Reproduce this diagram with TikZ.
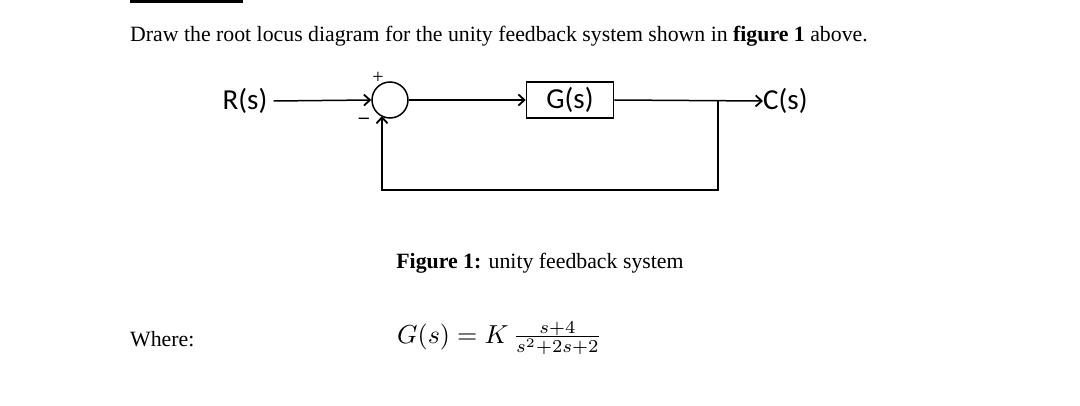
\documentclass[tikz,border=0pt]{standalone}
\usepackage{fontspec}
\usepackage{graphicx}
\setmainfont{Liberation Serif}
\newfontfamily\lab{Carlito}
\usetikzlibrary{arrows.meta}
\begin{document}
\begin{tikzpicture}[x=1pt,y=-1pt,
  wire/.style={line width=1.5pt},
  arr/.style={wire,-{Straight Barb[length=6pt,width=11pt,line width=1.8pt]}},
  lbl/.style={font=\lab\fontsize{29}{32}\selectfont,inner sep=0pt},
  txt/.style={font=\fontsize{21.8}{25}\selectfont,inner sep=0pt}]
\useasboundingbox (0,0) rectangle (1080,406);
\fill (130,0) rectangle (243,3);
\node[txt,anchor=west] (q) at (130,36) {Draw the root locus diagram for the unity feedback system shown in \textbf{figure 1} above.};
\node[lbl] (r) at (245,101) {R(s)};
\node[circle,draw,line width=1.5pt,minimum size=36pt,inner sep=0pt] (sum) at (390,100) {};
\node[draw,line width=1.5pt,minimum width=87pt,minimum height=36pt,inner sep=0pt,lbl] (g) at (570,100) {G(s)};
\node[lbl,anchor=west] (c) at (763,101) {C(s)};
\node[font=\fontsize{20}{20}\selectfont] (plus) at (378,78) {+};
\node[font=\fontsize{20}{20}\selectfont] (minus) at (364,121) {\textbf{--}};
\draw[arr] (r.east) ++(6,0) -- (sum.west);
\draw[arr] (sum.east) -- (g.west);
\coordinate (br) at (718,100);
\coordinate (bb) at (718,190);
\coordinate (lb) at (382,190);
\coordinate (tip) at (382,116);
\draw[arr] (g.east) -- (c.west);
\draw[wire] (br) -- (bb) -- (lb) -- ++(0,-70);
\draw[arr] (lb) -- (tip);
\node[txt] (cap) at (540,263) {\textbf{Figure 1:} unity feedback system};
\node[txt,anchor=west] (w) at (130,339) {Where:};
\node[anchor=west,inner sep=0pt] (f) at (397,338) {\scalebox{2.6}{$G(s)=K\,\frac{s+4}{s^2+2s+2}$}};
\end{tikzpicture}
\end{document}
